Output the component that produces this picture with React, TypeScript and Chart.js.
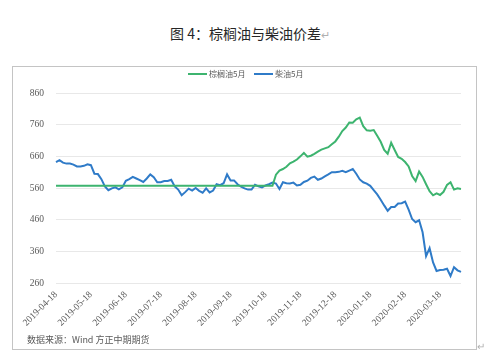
import { useEffect, useRef } from 'react';
import { Chart, registerables } from 'chart.js';

Chart.register(...registerables);

const tickDates = [
  '2019-04-18', '2019-05-18', '2019-06-18', '2019-07-18', '2019-08-18', '2019-09-18',
  '2019-10-18', '2019-11-18', '2019-12-18', '2020-01-18', '2020-02-18', '2020-03-18',
];

const seriesNames = ['棕榈油5月', '柴油5月'];

const palmOil = [
  567, 567, 567, 567, 567, 567, 567, 567, 567, 567,
  567, 567, 567, 567, 567, 567, 567, 567, 567, 567,
  567, 567, 567, 567, 567, 567, 567, 567, 567, 567,
  567, 567, 567, 567, 567, 567, 567, 567, 567, 567,
  567, 567, 567, 567, 567, 567, 567, 567, 567, 567,
  567, 567, 567, 567, 567, 567, 567, 567, 567, 567,
  567, 567, 567, 602, 615, 620, 627, 638, 643, 650,
  660, 671, 659, 662, 668, 675, 681, 685, 689, 698,
  707, 722, 740, 751, 767, 766, 777, 782, 755, 742,
  741, 743, 725, 706, 680, 668, 703, 680, 658, 652,
  642, 628, 598, 582, 612, 595, 572, 550, 537, 543,
  538, 548, 570, 578, 555, 559, 557,
];

const diesel = [
  642, 648, 640, 637, 637, 634, 628, 628, 630, 635,
  632, 605, 604, 588, 565, 553, 559, 562, 556, 562,
  583, 588, 595, 590, 585, 579, 590, 603, 594, 578,
  578, 582, 582, 586, 565, 555, 537, 547, 558, 552,
  560, 551, 545, 559, 546, 552, 572, 569, 575, 603,
  584, 584, 572, 564, 559, 555, 555, 570, 565, 562,
  568, 572, 577, 574, 557, 578, 575, 574, 577, 568,
  570, 579, 583, 592, 596, 586, 590, 597, 603, 610,
  610, 611, 614, 610, 615, 620, 605, 587, 578, 574,
  567, 553, 540, 523, 505, 488, 500, 500, 511, 512,
  517, 492, 462, 452, 458, 420, 345, 370, 325, 298,
  301, 302, 305, 282, 310, 300, 295,
];

const categories = diesel.map((_, i) => String(i));

const GREEN = '#3db46f';
const BLUE = '#2f7bc8';
const GRAY_TEXT = '#595959';

export default function App() {
  const ref = useRef<HTMLCanvasElement>(null);

  useEffect(() => {
    if (!ref.current) return;
    const chart = new Chart(ref.current, {
      type: 'line',
      data: {
        labels: categories,
        datasets: [
          {
            label: seriesNames[0],
            data: palmOil,
            borderColor: GREEN,
            backgroundColor: GREEN,
            borderWidth: 2,
            pointRadius: 0,
            tension: 0,
          },
          {
            label: seriesNames[1],
            data: diesel,
            borderColor: BLUE,
            backgroundColor: BLUE,
            borderWidth: 2,
            pointRadius: 0,
            tension: 0,
          },
        ],
      },
      options: {
        responsive: false,
        animation: false,
        layout: { padding: { left: 0, right: 15, top: 26, bottom: 0 } },
        plugins: {
          legend: { display: false },
          tooltip: { enabled: false },
        },
        scales: {
          x: {
            offset: false,
            grid: { display: false, drawTicks: false },
            border: { display: false },
            ticks: {
              autoSkip: false,
              maxRotation: 45,
              minRotation: 45,
              padding: 6,
              color: GRAY_TEXT,
              font: { family: 'Liberation Serif', size: 9.5 },
              callback: (_v: any, i: number) => (i % 10 === 0 ? tickDates[i / 10] : null),
            },
            afterFit: (s: any) => {
              s.height = 66;
            },
          },
          y: {
            min: 260,
            max: 860,
            grid: { color: '#e8e8e8', drawTicks: false, lineWidth: 1 },
            border: { display: false },
            ticks: {
              stepSize: 100,
              padding: 12,
              color: GRAY_TEXT,
              font: { family: 'Liberation Serif', size: 9.5 },
            },
            afterFit: (s: any) => {
              s.width = 43;
            },
          },
        },
      },
    });
    return () => chart.destroy();
  }, []);

  const cjk = '"Noto Sans CJK SC", "Noto Sans", sans-serif';

  return (
    <div
      style={{
        position: 'fixed',
        left: 0,
        top: 0,
        width: 500,
        height: 363,
        background: '#ffffff',
        overflow: 'hidden',
      }}
    >
      <div
        style={{
          position: 'absolute',
          left: 0,
          width: 500,
          top: 23,
          textAlign: 'center',
          fontFamily: cjk,
          fontSize: 14,
          lineHeight: '20px',
          color: '#262626',
        }}
      >
        图 4：棕榈油与柴油价差<span style={{ color: '#b0b0b0', fontSize: 11 }}>↵</span>
      </div>
      <div
        style={{
          position: 'absolute',
          left: 12,
          top: 66,
          width: 463,
          height: 282,
          border: '1px solid #c4c4c4',
        }}
      />
      <canvas
        ref={ref}
        width={463}
        height={282}
        style={{ position: 'absolute', left: 13, top: 67, width: 463, height: 282 }}
      />
      {/* legend */}
      <div style={{ position: 'absolute', left: 188, top: 73, width: 19, height: 2, background: GREEN }} />
      <div
        style={{
          position: 'absolute',
          left: 209,
          top: 68,
          fontFamily: cjk,
          fontSize: 8,
          lineHeight: '12px',
          color: GRAY_TEXT,
          whiteSpace: 'nowrap',
        }}
      >
        {seriesNames[0]}
      </div>
      <div style={{ position: 'absolute', left: 254, top: 73, width: 19, height: 2, background: BLUE }} />
      <div
        style={{
          position: 'absolute',
          left: 275,
          top: 68,
          fontFamily: cjk,
          fontSize: 8,
          lineHeight: '12px',
          color: GRAY_TEXT,
          whiteSpace: 'nowrap',
        }}
      >
        {seriesNames[1]}
      </div>
      <div
        style={{
          position: 'absolute',
          left: 27,
          top: 334,
          fontFamily: cjk,
          fontSize: 9,
          lineHeight: '12px',
          color: GRAY_TEXT,
          whiteSpace: 'nowrap',
        }}
      >
        数据来源：Wind 方正中期期货
      </div>
      <div
        style={{
          position: 'absolute',
          left: 477,
          top: 340,
          fontFamily: cjk,
          fontSize: 10,
          lineHeight: '12px',
          color: '#b0b0b0',
        }}
      >
        ↵
      </div>
    </div>
  );
}
